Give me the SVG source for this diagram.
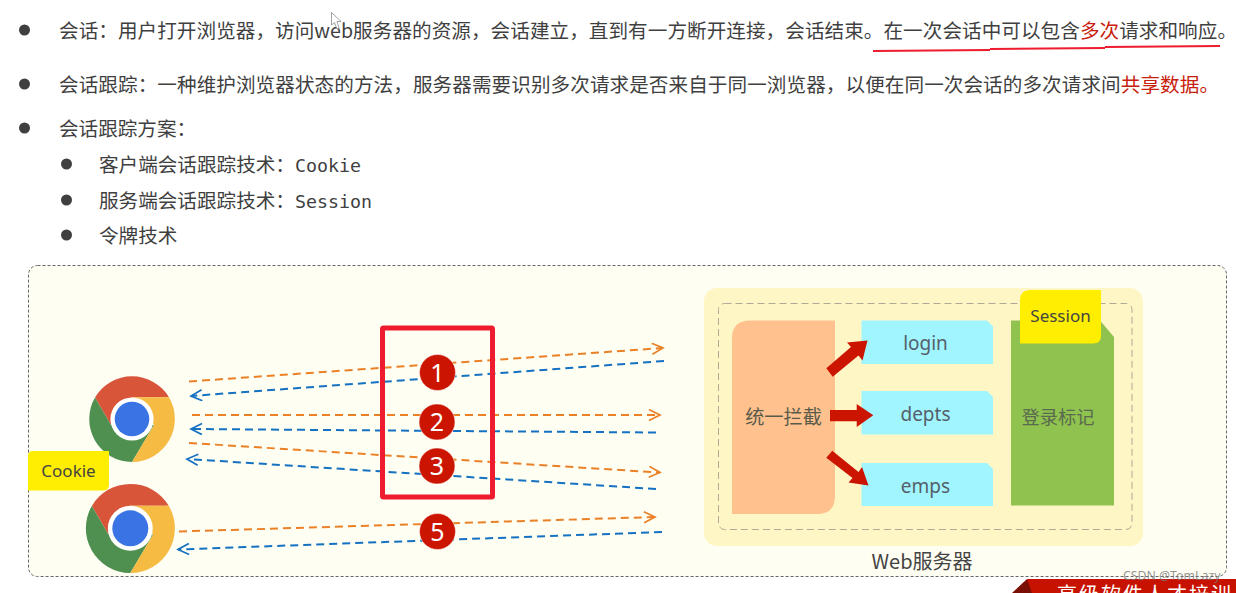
<svg xmlns="http://www.w3.org/2000/svg" width="1236" height="593" viewBox="0 0 1236 593">
<style>
text{font-family:"Noto Sans CJK SC","Noto Sans",sans-serif}
.t{font-size:19.6px;fill:#3f3f3f}
.r{fill:#c8200c}
.m{font-family:"DejaVu Sans Mono","Noto Sans CJK SC",monospace}
.b{fill:#3f3f3f}
.o{fill:none;stroke:#ea8127;stroke-width:2;stroke-dasharray:8 5}
.u{fill:none;stroke:#1571c2;stroke-width:2;stroke-dasharray:8 5}
.n{fill:#cc1500;stroke:#fff;stroke-opacity:.5;stroke-width:1}
.nt{font-size:25px;fill:#fff;text-anchor:middle;font-family:"Noto Sans",sans-serif}
.l{font-size:19px;fill:#55606a;text-anchor:middle;font-family:"Noto Sans","Noto Sans CJK SC",sans-serif}
.c{font-size:19.2px;fill:#5a5a4a;text-anchor:middle}
.fat{fill:#cc1500}
.svc{fill:#a0f5ff}
.tag{fill:#ffee00}
.tagt{font-size:17px;fill:#444;text-anchor:middle;font-family:"Noto Sans",sans-serif}
</style>
<defs>
<marker id="ao" markerUnits="userSpaceOnUse" markerWidth="14" markerHeight="14" refX="12" refY="6" orient="auto"><path d="M1,0.5L12,6L1,11.500" fill="none" stroke="#ea8127" stroke-width="1.700"/></marker>
<marker id="au" markerUnits="userSpaceOnUse" markerWidth="14" markerHeight="14" refX="12" refY="6" orient="auto"><path d="M1,0.5L12,6L1,11.500" fill="none" stroke="#1571c2" stroke-width="1.700"/></marker>
<g id="chrome">
<circle r="43" fill="#fff"/>
<path d="M-37,-21.500A43,43 0 0 1 37,-21.700L0,-21.700L-21,6Z" fill="#d9553a"/>
<path d="M-37,-21.500A43,43 0 0 0 0,43L22,6L-21,6Z" fill="#4f8f50"/>
<path d="M37,-21.700A43,43 0 0 1 0,43L22,6L0,-21.700Z" fill="#f6bb43"/>
<circle r="21.600" fill="#fff"/>
<circle r="17.300" fill="#3a74e4"/>
</g>
</defs>
<rect width="1236" height="593" fill="#fff"/>

<g id="text-lines">
<circle class="b" cx="24.500" cy="30" r="5.500"/>
<text class="t" x="59" y="38" textLength="1178" lengthAdjust="spacing">会话：用户打开浏览器，访问web服务器的资源，会话建立，直到有一方断开连接，会话结束。在一次会话中可以包含<tspan class="r">多次</tspan>请求和响应。</text>
<circle class="b" cx="24.500" cy="84" r="5.500"/>
<text class="t" x="59" y="92" textLength="1160" lengthAdjust="spacing">会话跟踪：一种维护浏览器状态的方法，服务器需要识别多次请求是否来自于同一浏览器，以便在同一次会话的多次请求间<tspan class="r">共享数据。</tspan></text>
<circle class="b" cx="24.500" cy="128" r="5.500"/>
<text class="t" x="59" y="136">会话跟踪方案：</text>
<circle class="b" cx="66.500" cy="164" r="5.500"/>
<text class="t" x="99" y="172">客户端会话跟踪技术：<tspan class="m" font-size="18.300">Cookie</tspan></text>
<circle class="b" cx="66.500" cy="200" r="5.500"/>
<text class="t" x="99" y="208">服务端会话跟踪技术：<tspan class="m" font-size="18.300">Session</tspan></text>
<circle class="b" cx="66.500" cy="235" r="5.500"/>
<text class="t" x="99" y="243">令牌技术</text>
<path d="M873,51L990,50M990,49L1105,48M1105,47L1220,46" fill="none" stroke="#ee1c2e" stroke-width="2"/>
<path d="M331.500,12.500L331.500,25L334.500,22.500L337,29L339,28L337,21.500L341,21.500Z" fill="#fff" stroke="#8a8a8a" stroke-width=".8"/>
</g>

<rect id="panel" x="28.500" y="265.500" width="1198" height="311" rx="9" fill="#fffef2" stroke="#666" stroke-width="1" stroke-dasharray="3 2"/>

<g id="server">
<rect x="704" y="288" width="439" height="258" rx="13" fill="#fff6c5"/>
<rect x="718.500" y="303.500" width="413.500" height="226" rx="6" fill="none" stroke="#aeaa96" stroke-width="1" stroke-dasharray="7 4"/>
<text x="922" y="569" font-size="20" fill="#444" text-anchor="middle">Web服务器</text>
</g>

<g id="browser-1"><use href="#chrome" transform="translate(132,419)"/></g>
<g id="browser-2"><use href="#chrome" transform="translate(130.300,528.300) scale(1.04)"/></g>
<g id="cookie">
<path class="tag" d="M33,451H109V485Q109,490.500 103,490.500H28V456Q28,451 33,451Z"/>
<text class="tagt" x="68.500" y="476.500">Cookie</text>
</g>

<g id="interceptor">
<path d="M750,320.500H835V496Q835,514 817,514H732V338.500Q732,320.500 750,320.500Z" fill="#ffc28f"/>
<text class="c" x="783.500" y="424">统一拦截</text>
</g>
<g id="login"><path class="svc" d="M861.500,320.500H987L993,326.500V364H861.500Z"/><text class="l" x="925.500" y="350">login</text></g>
<g id="depts"><path class="svc" d="M861.500,391H987L993,397V434.500H861.500Z"/><text class="l" x="925.500" y="421">depts</text></g>
<g id="emps"><path class="svc" d="M861.500,463H987L993,469V506H861.500Z"/><text class="l" x="925.500" y="493">emps</text></g>
<g id="session-store">
<path d="M1011,320.500H1100L1114,337V505.500H1011Z" fill="#8fc24e"/>
<text class="c" x="1058" y="424" style="font-size:18.300px;fill:#5a6a50">登录标记</text>
</g>
<g id="session">
<path class="tag" d="M1030,290H1101V336Q1101,343.500 1093,343.500H1020V300Q1020,290 1030,290Z"/>
<text class="tagt" x="1060.500" y="322">Session</text>
</g>

<g id="connectors">
<line class="o" x1="189" y1="381.500" x2="663" y2="348" marker-end="url(#ao)"/>
<line class="u" x1="664" y1="361" x2="191" y2="396" marker-end="url(#au)"/>
<line class="o" x1="192" y1="415" x2="660" y2="415" marker-end="url(#ao)"/>
<line class="u" x1="656" y1="432.500" x2="191" y2="429" marker-end="url(#au)"/>
<line class="o" x1="189" y1="443" x2="660" y2="472.500" marker-end="url(#ao)"/>
<line class="u" x1="656" y1="489" x2="187" y2="459" marker-end="url(#au)"/>
<line class="o" x1="179" y1="531.500" x2="655" y2="517" marker-end="url(#ao)"/>
<line class="u" x1="662" y1="532" x2="178" y2="549.500" marker-end="url(#au)"/>
<path class="fat" d="M826.300,368.300L851,347L847,342.500L867.500,340.500L862.500,360.500L858.500,355.500L832.700,376.700Z"/>
<path class="fat" d="M830,410H856.700V404L873.300,415.300L856.700,427V421.300H830Z"/>
<path class="fat" d="M826.300,457.700L832.300,450.700L858.500,472L862,467L868.500,485.500L848.500,482.500L852.500,478Z"/>
</g>

<rect id="highlight" x="382.500" y="328" width="110" height="169" rx="1" fill="none" stroke="#ee1c2e" stroke-width="5"/>
<g id="step-1"><circle class="n" cx="437.500" cy="372.500" r="18"/><text class="nt" x="437.500" y="381.500">1</text></g>
<g id="step-2"><circle class="n" cx="437" cy="422" r="18"/><text class="nt" x="437" y="431">2</text></g>
<g id="step-3"><circle class="n" cx="437" cy="466" r="18"/><text class="nt" x="437" y="475">3</text></g>
<g id="step-5"><circle class="n" cx="437.500" cy="531.500" r="18"/><text class="nt" x="437.500" y="540.500">5</text></g>

<g id="banner">
<path d="M1012,593L1027,579L1040,593Z" fill="#7a0f05"/>
<path d="M1027,579H1236V593H1032Z" fill="#c81200"/>
<text x="1057" y="602" font-size="20" fill="#fff" letter-spacing="2" style="font-family:'Noto Sans CJK SC',serif">高级软件人才培训</text>
</g>
<text id="watermark" x="1123" y="580" font-size="12.300" fill="#777" fill-opacity=".8" style="font-family:'Noto Sans',sans-serif">CSDN @TomLazy</text>
</svg>
